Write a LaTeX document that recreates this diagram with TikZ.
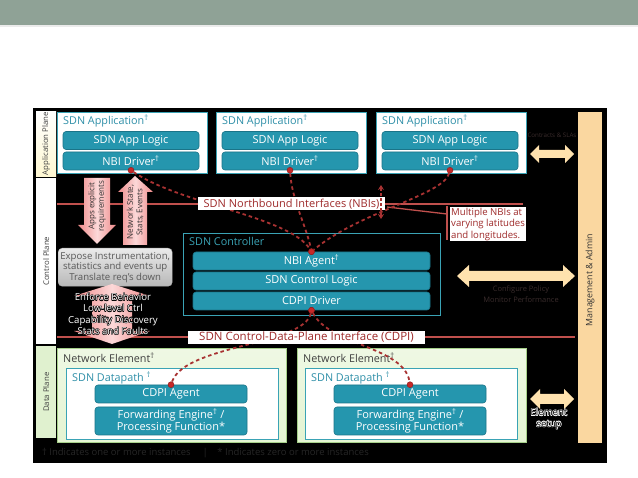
\documentclass[tikz,border=0pt]{standalone}
\usepackage{fontspec}
\setmainfont{Open Sans}
\usetikzlibrary{arrows.meta,calc}
\definecolor{topbar}{HTML}{8FA296}
\definecolor{tealF}{HTML}{2596AE}
\definecolor{tealD}{HTML}{1A7488}
\definecolor{tealT}{HTML}{2E8FA8}
\definecolor{tealB}{HTML}{3AA3B5}
\definecolor{nbired}{HTML}{C0504D}
\definecolor{dotred}{HTML}{C62828}
\definecolor{dashred}{HTML}{A83232}
\definecolor{txtred}{HTML}{9E2A2A}
\definecolor{pinkD}{HTML}{EF8A8A}
\definecolor{pinkL}{HTML}{FCD8D8}
\definecolor{creamA}{HTML}{FFE2AE}
\definecolor{mgmt}{HTML}{FAD7A0}
\definecolor{neF}{HTML}{E4F4D2}
\definecolor{neB}{HTML}{A6D08A}
\definecolor{appcol}{HTML}{FFF8D2}
\definecolor{datacol}{HTML}{E0F1CF}
\definecolor{dimtxt}{HTML}{3A2C2C}
\definecolor{foottxt}{HTML}{262626}
\newcommand\olnode[5]{%
  \foreach \dx/\dy in {0.5/0,-0.5/0,0/0.5,0/-0.5,0.35/0.35,-0.35/0.35,0.35/-0.35,-0.35/-0.35}{%
    \node[oltext, text=#3] at ($(#1)+(\dx,\dy)$) {#5};}%
  \node[oltext, text=#4] (#2) at (#1) {#5};}
\begin{document}
\begin{tikzpicture}[x=1pt,y=-1pt,
  tealbox/.style={draw=tealD, fill=tealF, rounded corners=3pt, text=white, inner sep=0pt, font=\fontsize{11}{12.5}\selectfont, line width=0.6pt, align=center},
  appbox/.style={draw=tealB, fill=white, line width=1.2pt, inner sep=0pt, anchor=north west},
  ttl/.style={text=tealT, font=\fontsize{10.8}{12}\selectfont, anchor=west, inner sep=0pt},
  dot/.style={circle, fill=dotred, draw=dotred!70!black, inner sep=0pt, minimum size=6pt},
  dsh/.style={draw=dashred, line width=1.8pt, dash pattern=on 3.5pt off 3pt},
  nbiline/.style={draw=nbired, line width=1.3pt},
  lbl/.style={fill=white, text=txtred, inner sep=0pt, font=\fontsize{11}{12}\selectfont},
  plane/.style={inner sep=0pt, anchor=north west, minimum width=20pt},
  planetxt/.style={rotate=90, text=black!75, font=\fontsize{7.8}{9}\selectfont},
  oltext/.style={align=center, inner sep=0pt, font=\fontsize{9.6}{11.3}\selectfont},
  dim/.style={text=dimtxt, align=center, inner sep=0pt, font=\fontsize{7.5}{11}\selectfont},
  pinktxt/.style={rotate=90, align=center, inner sep=0pt, text=black!80, font=\fontsize{8}{9.5}\selectfont},
  pinkarrow/.style={left color=pinkD, right color=pinkD, middle color=pinkL, draw=none},
  cream/.style={fill=creamA, draw=none}]
\useasboundingbox (0,0) rectangle (638,478);
% slide background
\fill[topbar] (0,0) rectangle (638,25);
\fill[black!8] (0,25) rectangle (638,27);
\fill[black] (33,108) rectangle (607,463);
% plane labels
\node[plane, top color=white, bottom color=appcol, minimum height=65pt] (lapp) at (36,111) {};
\node[planetxt] (lappt) at (lapp.center) {Application Plane};
\node[plane, fill=white, minimum height=166pt] (lctl) at (36,178) {};
\node[planetxt] (lctlt) at (lctl.center) {Control Plane};
\node[plane, fill=datacol, minimum height=92pt] (ldat) at (36,346) {};
\node[planetxt] (ldatt) at (ldat.center) {Data Plane};
% management
\node[plane, fill=mgmt, minimum width=24pt, minimum height=331pt] (mgmt) at (578,112) {};
\node[planetxt, font=\fontsize{8.8}{10}\selectfont, text=black!80] (mgmtt) at (590,280) {Management \& Admin};
% applications
\foreach \i/\x in {1/57,2/216,3/376} {
  \node[appbox, minimum width=150pt, minimum height=61pt] (app\i) at (\x,112) {};
  \node[ttl] (appt\i) at (\x+6,121) {SDN Application\textsuperscript{†}};
  \node[tealbox, minimum width=136pt, minimum height=18pt] (logic\i) at (\x+74,140.5) {SDN App Logic};
  \node[tealbox, minimum width=136pt, minimum height=18pt] (drv\i) at (\x+74,161) {NBI Driver\textsuperscript{†}};
}
% controller
\node[draw=tealB, line width=1.2pt, fill=black, minimum width=257pt, minimum height=82pt, anchor=north west, inner sep=0pt] (ctrl) at (183,233) {};
\node[ttl, text=tealB] (ctrlt) at (189,241.5) {SDN Controller};
\node[tealbox, minimum width=237pt, minimum height=18pt] (nbia) at (311.5,261) {NBI Agent\textsuperscript{†}};
\node[tealbox, minimum width=237pt, minimum height=18pt] (logic) at (311.5,281) {SDN Control Logic};
\node[tealbox, minimum width=237pt, minimum height=18pt] (cdpid) at (311.5,301) {CDPI Driver};
% network elements
\foreach \i/\x/\dx in {1/57/66,2/297/305} {
  \node[anchor=north west, top color=neF!60!white, bottom color=neF, draw=neB, line width=0.8pt, minimum width=229pt, minimum height=94pt, inner sep=0pt] (ne\i) at (\x,348) {};
  \node[ttl, text=black!75] (net\i) at (\x+6,357.5) {Network Element\textsuperscript{†}};
  \node[appbox, minimum width=212pt, minimum height=71pt] (dp\i) at (\dx,368) {};
  \node[ttl] (dpt\i) at (\dx+6,377.5) {SDN Datapath \textsuperscript{†}};
  \node[tealbox, minimum width=152pt, minimum height=18pt] (cdpia\i) at (\dx+105,394) {CDPI Agent};
  \node[tealbox, minimum width=152pt, minimum height=28pt] (fwd\i) at (\dx+105,421) {Forwarding Engine\textsuperscript{†} /\\Processing Function*};
}
% dots
\foreach \i in {1,2,3} {\node[dot] (ad\i) at (drv\i.south) {};}
\node[dot] (nbid) at (nbia.north) {};
\node[dot] (cdd) at (cdpid.south) {};
\node[dot] (nd1) at (cdpia1.north) {};
\node[dot] (nd2) at (cdpia2.north) {};
% NBI lines
\coordinate (nl) at (57,204);
\coordinate (nr) at (523,204);
\coordinate (sl) at (387,207);
\coordinate (br1) at (447,206);
\coordinate (br2) at (447,240);
\coordinate (brm) at (447,214);
\draw[nbiline] (nl) -- (nr);
\draw[nbiline] (sl) -- (brm);
\draw[nbiline] (br1) -- (br2);
% CDPI line
\coordinate (cl) at (57,337);
\coordinate (cr) at (575,337);
\draw[nbiline] (cl) -- (cr);
% dashed NBI / CDPI curves
\draw[dsh] (ad1) .. controls +(50,34) and +(-22,-35) .. (nbid);
\draw[dsh] (ad2) .. controls +(2,30) and +(-5,-25) .. (nbid);
\draw[dsh] (ad3) .. controls +(-7,25) and +(48,-40) .. (nbid);
\draw[dsh] (cdd) .. controls +(-8,35) and +(14,-40) .. (nd1);
\draw[dsh] (cdd) .. controls +(18,35) and +(-6,-38) .. (nd2);
\node[dot] at (nbia.north) {};
\node[dot] at (cdpid.south) {};
% interface labels
\node[lbl, minimum width=187pt, minimum height=13pt] (nbil) at (291.5,204) {SDN Northbound Interfaces (NBIs)};
\node[lbl, minimum width=237pt, minimum height=13pt, font=\fontsize{11.5}{12}\selectfont] (cdpil) at (306.5,337.5) {SDN Control-Data-Plane Interface (CDPI)};
\node[fill=white, text=txtred, anchor=north west, inner sep=1pt, align=left, minimum width=74pt, minimum height=33pt, font=\fontsize{9.6}{11.3}\selectfont] (multi) at (450,207) {Multiple NBIs at\\varying latitudes\\and longitudes.};
\coordinate (va) at (381,185);
\coordinate (vb) at (381,219);
\draw[draw=dashred, line width=1.1pt, dash pattern=on 3pt off 2pt, {Stealth[length=5pt,width=6pt]}-{Stealth[length=5pt,width=6pt]}] (va) -- (vb);
% pink arrows
\path[pinkarrow] (84,178) -- (110,178) -- (110,225) -- (116,225) -- (97,244) -- (78,225) -- (84,225) -- cycle;
\node[pinktxt] (appsreq) at (97,206) {Apps explicit\\requirements};
\path[pinkarrow] (135,176) -- (153,192) -- (147,192) -- (147,245) -- (123,245) -- (123,192) -- (118,192) -- cycle;
\node[pinktxt] (netst) at (135,212) {Network State,\\Stats, Events};
% expose box
\node[anchor=north west, rounded corners=4pt, top color=black!8, bottom color=black!28, draw=black!30, minimum width=114pt, minimum height=38pt, inner sep=0pt] (expose) at (58,248) {};
\node[align=center, inner sep=0pt, text=black!65, font=\fontsize{9.6}{10.5}\selectfont] (exposet) at (expose.center) {Expose Instrumentation,\\statistics and events up\\Translate req's down};
% enforce double arrow
\path[pinkarrow] (112,284) -- (150,296) -- (132,296) -- (132,331) -- (150,331) -- (112,344) -- (74,331) -- (92,331) -- (92,296) -- (74,296) -- cycle;
\coordinate (enf) at (113,314);
\olnode{enf}{enft}{black}{white}{Enforce Behavior\\Low-level Ctrl\\Capability Discovery\\Stats and Faults}
% management arrows
\path[cream] (530,154) -- (539,145) -- (539,150) -- (565,150) -- (565,145) -- (574,154) -- (565,163) -- (565,158) -- (539,158) -- (539,163) -- cycle;
\path[cream] (457,276) -- (469,265) -- (469,271) -- (563,271) -- (563,265) -- (575,276) -- (563,287) -- (563,281) -- (469,281) -- (469,287) -- cycle;
\path[cream] (530,399) -- (540,389) -- (540,394) -- (564,394) -- (564,389) -- (574,399) -- (564,409) -- (564,404) -- (540,404) -- (540,409) -- cycle;
\node[dim, font=\fontsize{6.2}{8}\selectfont] (contr) at (552,135) {Contracts \& SLAs};
\node[dim] (confp) at (521,294) {Configure Policy\\Monitor Performance};
\coordinate (els) at (549,419);
\olnode{els}{elst}{white}{black}{Element\\setup}
% footer
\node[anchor=west, text=foottxt, inner sep=0pt, font=\fontsize{9.5}{10}\selectfont] (foot) at (42,453) {† Indicates one or more instances \quad|\quad * Indicates zero or more instances};
\end{tikzpicture}
\end{document}
